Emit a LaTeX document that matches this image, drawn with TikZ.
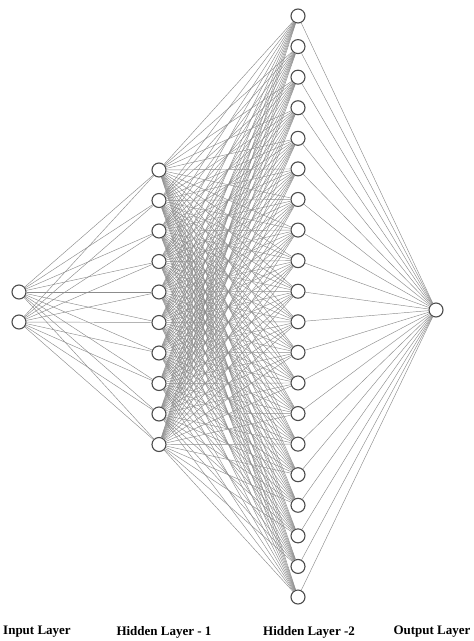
\documentclass[tikz,border=0pt]{standalone}
\usepackage{fontspec}
\setmainfont{Liberation Serif}
\usepackage{tikz}

\begin{document}
\begin{tikzpicture}[x=1pt,y=-1pt,
    neuron/.style={circle,draw=black!70,line width=1.1pt,fill=white,minimum size=14pt,inner sep=0pt},
    synapse/.style={draw=black!45,line width=0.45pt},
    layername/.style={font=\fontsize{13}{15}\selectfont\bfseries}]
    \useasboundingbox (0,0) rectangle (474,641);

    \foreach \i/\y in {1/292,2/322}
        \node[neuron] (in\i) at (19,\y) {};
    \foreach \j in {1,...,10}
        \node[neuron] (hA\j) at (159,{170+30.5*(\j-1)}) {};
    \foreach \k in {1,...,20}
        \node[neuron] (hB\k) at (298,{16+30.58*(\k-1)}) {};
    \node[neuron] (out) at (436,310) {};

    \foreach \i in {1,2}
        \foreach \j in {1,...,10}
            \path[synapse] (in\i) -- (hA\j);
    \foreach \j in {1,...,10}
        \foreach \k in {1,...,20}
            \path[synapse] (hA\j) -- (hB\k);
    \foreach \k in {1,...,20}
        \path[synapse] (hB\k) -- (out);

    \node[layername] (inlabel) at (37,632) {Input Layer};
    \node[layername] (hAlabel) at (164,632) {Hidden Layer - 1};
    \node[layername] (hBlabel) at (309,632) {Hidden Layer -2};
    \node[layername] (outlabel) at (432,632) {Output Layer};
\end{tikzpicture}
\end{document}
